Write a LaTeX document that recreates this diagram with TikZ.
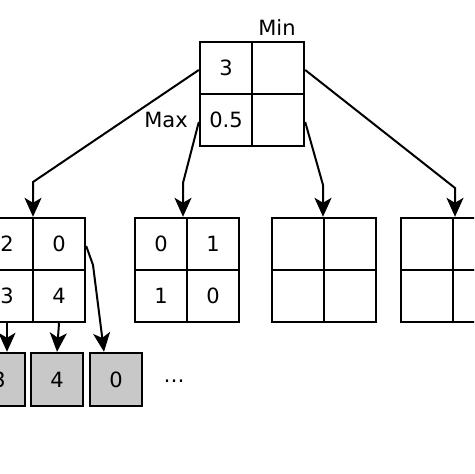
\documentclass[tikz,border=0pt]{standalone}
\usepackage{fontspec}
\setmainfont{DejaVu Sans}
\usetikzlibrary{arrows.meta}
\definecolor{leafgray}{RGB}{200,200,200}

\begin{document}
\begin{tikzpicture}[x=0.5pt, y=-0.5pt,
	cell/.style={draw, line width=1.2pt, minimum size=26pt, inner sep=0pt, font=\fontsize{10.5}{12}\selectfont},
	leaf/.style={cell, fill=leafgray, minimum height=26.5pt},
	arr/.style={line width=1pt, -{Stealth[length=9.5pt, width=8.5pt, inset=2.5pt]}},
	lbl/.style={font=\fontsize{10.5}{12}\selectfont}]

	\useasboundingbox (0,0) rectangle (474,474);
	\clip (0,0) rectangle (474,474);

	% root
	\node[cell] (r11) at (226,68) {3};
	\node[cell] (r12) at (278,68) {};
	\node[cell] (r21) at (226,120) {0.5};
	\node[cell] (r22) at (278,120) {};
	\node[lbl] (min) at (277,28) {Min};
	\node[lbl] (max) at (166,120) {Max};

	% children
	\node[cell] (a11) at (7,244) {2};
	\node[cell] (a12) at (59,244) {0};
	\node[cell] (a21) at (7,296) {3};
	\node[cell] (a22) at (59,296) {4};

	\node[cell] (b11) at (161,244) {0};
	\node[cell] (b12) at (213,244) {1};
	\node[cell] (b21) at (161,296) {1};
	\node[cell] (b22) at (213,296) {0};

	\node[cell] (c11) at (298,244) {};
	\node[cell] (c12) at (350,244) {};
	\node[cell] (c21) at (298,296) {};
	\node[cell] (c22) at (350,296) {};

	\node[cell] (d11) at (427,244) {};
	\node[cell] (d12) at (479,244) {};
	\node[cell] (d21) at (427,296) {};
	\node[cell] (d22) at (479,296) {};

	% leaves
	\node[leaf] (l1) at (-1,379.5) {3};
	\node[leaf] (l2) at (57,379.5) {4};
	\node[leaf] (l3) at (116,379.5) {0};
	\node[lbl] (more) at (174,381) {\dots};

	% bends
	\coordinate (k1) at (33,182);
	\coordinate (k2) at (183,183);
	\coordinate (k3) at (323,185);
	\coordinate (k4) at (455,188);
	\coordinate (k5) at (93,265);

	% arrows
	\draw[arr] ([yshift=-1pt]r11.west) -- (k1) -- (k1 |- a11.north);
	\draw[arr] ([yshift=-1pt]r21.west) -- (k2) -- (k2 |- b11.north);
	\draw[arr] ([yshift=-1pt]r22.east) -- (k3) -- (k3 |- c11.north);
	\draw[arr] ([yshift=-1pt]r12.east) -- (k4) -- (k4 |- d11.north);
	\draw[arr] (a21.south) -- ([xshift=4]l1.north);
	\draw[arr] (a22.south) -- (l2.north);
	\draw[arr] ([yshift=-1pt]a12.east) -- (k5) -- ([xshift=-6]l3.north);
\end{tikzpicture}
\end{document}
